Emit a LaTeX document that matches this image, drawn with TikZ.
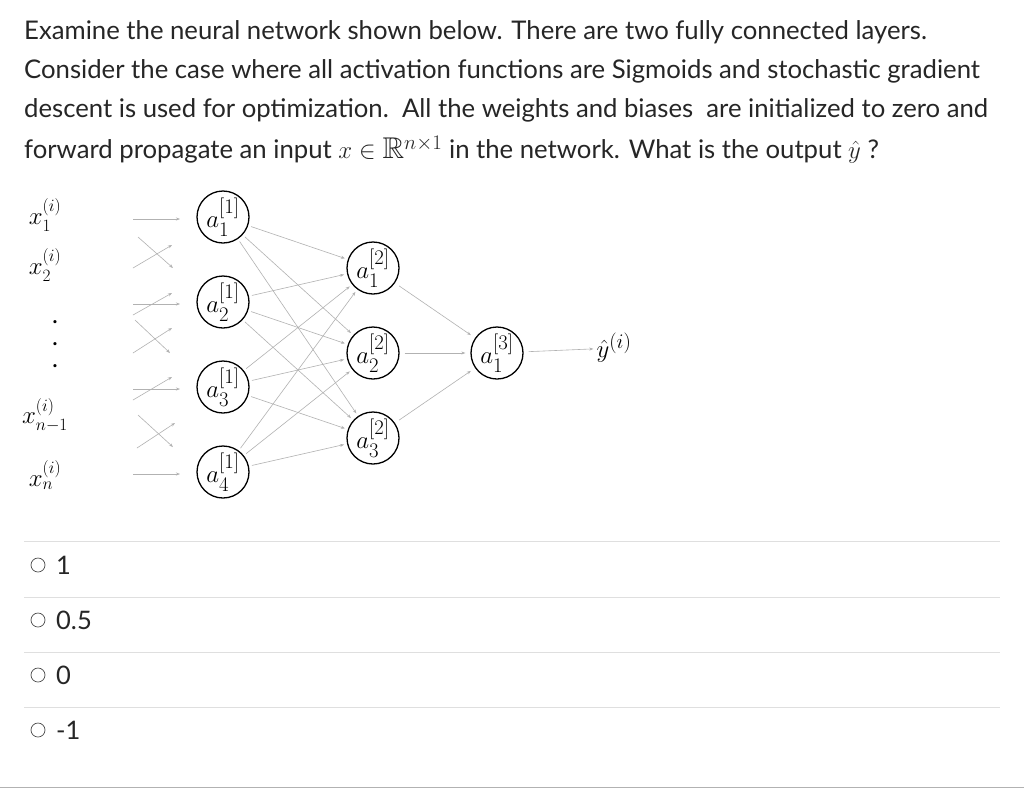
\documentclass[tikz,border=0pt]{standalone}
\usepackage{amssymb}
\usepackage{fontspec}
\setmainfont{Lato}
\usetikzlibrary{arrows.meta}
\begin{document}
\begin{tikzpicture}[x=1pt,y=-1pt,
  neuron/.style={circle,draw,line width=1.3pt,minimum size=52pt,inner sep=0pt,font=\fontsize{28}{28}\selectfont},
  conn/.style={draw=gray!60,line width=0.6pt,-{Stealth[length=4pt,width=3pt]}},
  qtext/.style={anchor=west,font=\fontsize{25.7}{30}\selectfont,inner sep=0pt,text=black!85},
  opt/.style={anchor=west,font=\fontsize{25.5}{30}\selectfont,inner sep=0pt,text=black!85},
  inlab/.style={font=\fontsize{25}{25}\selectfont},
  sep/.style={draw=gray!25,line width=0.6pt}]
\useasboundingbox (0,0) rectangle (1024,790);
\fill[white] (0,0) rectangle (1024,790);
\node[qtext] (l1) at (24,32) {Examine the neural network shown below. There are two fully connected layers.};
\node[qtext] (l2) at (24,71) {Consider the case where all activation functions are Sigmoids and stochastic gradient};
\node[qtext] (l3) at (24,110) {descent is used for optimization.\ \ All the weights and biases\ \ are initialized to zero and};
\node[qtext] (l4) at (24,150) {forward propagate an input {\fontsize{30}{30}\selectfont$x\in\mathbb{R}^{n\times1}$} in the network. What is the output {\fontsize{30}{30}\selectfont$\hat{y}$} ?};
% inputs
\node[inlab] (x1) at (45,215) {$x_1^{(i)}$};
\node[inlab] (x2) at (45,265) {$x_2^{(i)}$};
\node[inlab] (d1) at (55,322) {.};
\node[inlab] (d2) at (55,344) {.};
\node[inlab] (d3) at (55,366) {.};
\node[inlab] (x3) at (45,415) {$x_{n-1}^{(i)}$};
\node[inlab] (x4) at (45,475) {$x_n^{(i)}$};
% layer 1
\node[neuron] (a1) at (223,217) {$a_1^{[1]}$};
\node[neuron] (a2) at (223,302) {$a_2^{[1]}$};
\node[neuron] (a3) at (223,387) {$a_3^{[1]}$};
\node[neuron] (a4) at (223,472) {$a_4^{[1]}$};
\node[neuron] (b1) at (373,268) {$a_1^{[2]}$};
\node[neuron] (b2) at (373,353) {$a_2^{[2]}$};
\node[neuron] (b3) at (373,438) {$a_3^{[2]}$};
\node[neuron] (c1) at (497,353) {$a_1^{[3]}$};
\node[font=\fontsize{32}{32}\selectfont,inner sep=1pt] (y) at (614,348) {$\hat{y}^{(i)}$};
% short input arrows
\foreach \yy in {219,304,389,474}{
  \coordinate (s\yy) at (133,\yy); \coordinate (e\yy) at (180,\yy);
  \draw[conn] (s\yy) -- (e\yy);}
\foreach \ax/\ay/\bx/\by [count=\i] in {138/237/173/268, 133/268/172/245, 133/315/172/293, 135/320/170/353, 133/353/172/328, 133/400/172/377, 138/415/173/447, 137/448/175/423}{
  \coordinate (p\i) at (\ax,\ay); \coordinate (q\i) at (\bx,\by);
  \draw[conn] (p\i) -- (q\i);}
% layer1 -> layer2
\foreach \a in {a1,a2,a3,a4}{\foreach \b in {b1,b2,b3}{\draw[conn,shorten <=3pt,shorten >=3pt] (\a) -- (\b);}}
\foreach \b in {b1,b2,b3}{\draw[conn,shorten <=5pt,shorten >=5pt] (\b) -- (c1);}
\draw[conn,shorten <=5pt,shorten >=2pt] (c1) -- (y);
% options
\foreach \yy/\t [count=\i] in {565/1,620/0.5,675/0,730/-1}{
  \node[draw=black!70,circle,line width=0.7pt,minimum size=14pt,inner sep=0pt] (r\i) at (38,\yy) {};
  \node[opt] (o\i) at (56,\yy) {\t};}
\foreach \yy in {541,597,652,707}{\coordinate (u\yy) at (24,\yy); \coordinate (v\yy) at (1000,\yy); \draw[sep] (u\yy) -- (v\yy);}
\coordinate (w1) at (0,787); \coordinate (w2) at (1024,787);
\draw[gray!60,line width=1pt] (w1) -- (w2);
\end{tikzpicture}
\end{document}
